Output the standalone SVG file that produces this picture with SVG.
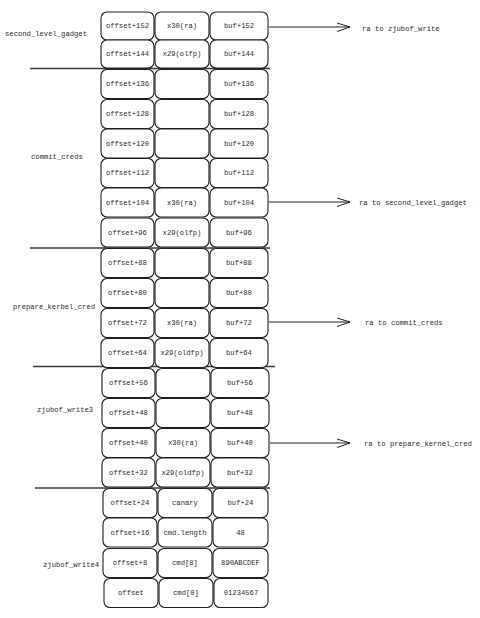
<svg xmlns="http://www.w3.org/2000/svg" width="480" height="618" viewBox="0 0 480 618">
<style>
.c{fill:#fff;stroke:#1e1e1e;stroke-width:1.1}
.t{font-family:"Liberation Mono","DejaVu Sans Mono",monospace;font-size:7.2px;fill:#2a2a2a;text-anchor:middle;dominant-baseline:central}
.l{font-family:"Liberation Mono","DejaVu Sans Mono",monospace;font-size:7.2px;fill:#2a2a2a}
.s{stroke:#3a3a3a;stroke-width:1.3;fill:none}
.a{stroke:#1e1e1e;stroke-width:1;fill:none}
</style>
<defs>
<marker id="ah" markerUnits="userSpaceOnUse" markerWidth="16" markerHeight="12" refX="14" refY="5" orient="auto">
<path d="M1,1 L14,5 L1,9.5" fill="none" stroke="#1e1e1e" stroke-width="1"/>
</marker>
</defs>
<rect width="480" height="618" fill="#fff"/>
<g id="separators">
<line class="s" x1="30" y1="68.5" x2="270" y2="68.5"/>
<line class="s" x1="30" y1="248" x2="270" y2="248"/>
<line class="s" x1="33" y1="366.5" x2="275" y2="366.5"/>
<line class="s" x1="35" y1="488" x2="270" y2="488"/>
</g>
<g id="r0"><rect class="c" x="101" y="12" width="53" height="28" rx="6"/><text class="t" x="127.5" y="26">offset+152</text><rect class="c" x="155" y="12" width="54" height="28" rx="6"/><text class="t" x="182" y="26">x30(ra)</text><rect class="c" x="210" y="12" width="58" height="28" rx="6"/><text class="t" x="239" y="26">buf+152</text></g>
<g id="r1"><rect class="c" x="101" y="40" width="53" height="28" rx="6"/><text class="t" x="127.5" y="54">offset+144</text><rect class="c" x="155" y="40" width="54" height="28" rx="6"/><text class="t" x="182" y="54">x29(olfp)</text><rect class="c" x="210" y="40" width="58" height="28" rx="6"/><text class="t" x="239" y="54">buf+144</text></g>
<g id="r2"><rect class="c" x="101" y="69.5" width="53" height="29" rx="6"/><text class="t" x="127.5" y="84">offset+136</text><rect class="c" x="155" y="69.5" width="54" height="29" rx="6"/><rect class="c" x="210" y="69.5" width="58" height="29" rx="6"/><text class="t" x="239" y="84">buf+136</text></g>
<g id="r3"><rect class="c" x="101" y="99.5" width="53" height="29" rx="6"/><text class="t" x="127.5" y="114">offset+128</text><rect class="c" x="155" y="99.5" width="54" height="29" rx="6"/><rect class="c" x="210" y="99.5" width="58" height="29" rx="6"/><text class="t" x="239" y="114">buf+128</text></g>
<g id="r4"><rect class="c" x="101" y="129" width="53" height="29" rx="6"/><text class="t" x="127.5" y="143.5">offset+120</text><rect class="c" x="155" y="129" width="54" height="29" rx="6"/><rect class="c" x="210" y="129" width="58" height="29" rx="6"/><text class="t" x="239" y="143.5">buf+120</text></g>
<g id="r5"><rect class="c" x="101" y="158.5" width="53" height="29" rx="6"/><text class="t" x="127.5" y="173">offset+112</text><rect class="c" x="155" y="158.5" width="54" height="29" rx="6"/><rect class="c" x="210" y="158.5" width="58" height="29" rx="6"/><text class="t" x="239" y="173">buf+112</text></g>
<g id="r6"><rect class="c" x="101" y="188" width="53" height="29" rx="6"/><text class="t" x="127.5" y="202.5">offset+104</text><rect class="c" x="155" y="188" width="54" height="29" rx="6"/><text class="t" x="182" y="202.5">x30(ra)</text><rect class="c" x="210" y="188" width="58" height="29" rx="6"/><text class="t" x="239" y="202.5">buf+104</text></g>
<g id="r7"><rect class="c" x="101" y="218" width="53" height="29" rx="6"/><text class="t" x="127.5" y="232.5">offset+96</text><rect class="c" x="155" y="218" width="54" height="29" rx="6"/><text class="t" x="182" y="232.5">x29(olfp)</text><rect class="c" x="210" y="218" width="58" height="29" rx="6"/><text class="t" x="239" y="232.5">buf+96</text></g>
<g id="r8"><rect class="c" x="101" y="248.5" width="53" height="29" rx="6"/><text class="t" x="127.5" y="263">offset+88</text><rect class="c" x="155" y="248.5" width="54" height="29" rx="6"/><rect class="c" x="210" y="248.5" width="58" height="29" rx="6"/><text class="t" x="239" y="263">buf+88</text></g>
<g id="r9"><rect class="c" x="101" y="278.5" width="53" height="29" rx="6"/><text class="t" x="127.5" y="293">offset+80</text><rect class="c" x="155" y="278.5" width="54" height="29" rx="6"/><rect class="c" x="210" y="278.5" width="58" height="29" rx="6"/><text class="t" x="239" y="293">buf+80</text></g>
<g id="r10"><rect class="c" x="101" y="308.5" width="53" height="29" rx="6"/><text class="t" x="127.5" y="323">offset+72</text><rect class="c" x="155" y="308.5" width="54" height="29" rx="6"/><text class="t" x="182" y="323">x30(ra)</text><rect class="c" x="210" y="308.5" width="58" height="29" rx="6"/><text class="t" x="239" y="323">buf+72</text></g>
<g id="r11"><rect class="c" x="101" y="338.5" width="53" height="29" rx="6"/><text class="t" x="127.5" y="353">offset+64</text><rect class="c" x="155" y="338.5" width="54" height="29" rx="6"/><text class="t" x="182" y="353">x29(oldfp)</text><rect class="c" x="210" y="338.5" width="58" height="29" rx="6"/><text class="t" x="239" y="353">buf+64</text></g>
<g id="r12"><rect class="c" x="102" y="368.5" width="53" height="29" rx="6"/><text class="t" x="128.5" y="383">offset+56</text><rect class="c" x="156" y="368.5" width="54" height="29" rx="6"/><rect class="c" x="211" y="368.5" width="58" height="29" rx="6"/><text class="t" x="240" y="383">buf+56</text></g>
<g id="r13"><rect class="c" x="102" y="398.5" width="53" height="29" rx="6"/><text class="t" x="128.5" y="413">offset+48</text><rect class="c" x="156" y="398.5" width="54" height="29" rx="6"/><rect class="c" x="211" y="398.5" width="58" height="29" rx="6"/><text class="t" x="240" y="413">buf+48</text></g>
<g id="r14"><rect class="c" x="102" y="428.5" width="53" height="29" rx="6"/><text class="t" x="128.5" y="443">offset+40</text><rect class="c" x="156" y="428.5" width="54" height="29" rx="6"/><text class="t" x="183" y="443">x30(ra)</text><rect class="c" x="211" y="428.5" width="58" height="29" rx="6"/><text class="t" x="240" y="443">buf+40</text></g>
<g id="r15"><rect class="c" x="102" y="458" width="53" height="29" rx="6"/><text class="t" x="128.5" y="472.5">offset+32</text><rect class="c" x="156" y="458" width="54" height="29" rx="6"/><text class="t" x="183" y="472.5">x29(oldfp)</text><rect class="c" x="211" y="458" width="58" height="29" rx="6"/><text class="t" x="240" y="472.5">buf+32</text></g>
<g id="r16"><rect class="c" x="103" y="488.5" width="54" height="29" rx="6"/><text class="t" x="130" y="503">offset+24</text><rect class="c" x="158" y="488.5" width="54" height="29" rx="6"/><text class="t" x="185" y="503">canary</text><rect class="c" x="213" y="488.5" width="55" height="29" rx="6"/><text class="t" x="240.5" y="503">buf+24</text></g>
<g id="r17"><rect class="c" x="103" y="518" width="54" height="29" rx="6"/><text class="t" x="130" y="532.5">offset+16</text><rect class="c" x="158" y="518" width="54" height="29" rx="6"/><text class="t" x="185" y="532.5">cmd.length</text><rect class="c" x="213" y="518" width="55" height="29" rx="6"/><text class="t" x="240.5" y="532.5">48</text></g>
<g id="r18"><rect class="c" x="103" y="548.5" width="54" height="29" rx="6"/><text class="t" x="130" y="563">offset+8</text><rect class="c" x="158" y="548.5" width="54" height="29" rx="6"/><text class="t" x="185" y="563">cmd[8]</text><rect class="c" x="213" y="548.5" width="55" height="29" rx="6"/><text class="t" x="240.5" y="563">890ABCDEF</text></g>
<g id="r19"><rect class="c" x="104" y="578.5" width="54" height="29" rx="6"/><text class="t" x="131" y="593">offset</text><rect class="c" x="159" y="578.5" width="54" height="29" rx="6"/><text class="t" x="186" y="593">cmd[0]</text><rect class="c" x="214" y="578.5" width="54" height="29" rx="6"/><text class="t" x="241" y="593">01234567</text></g>
<g id="frame-labels">
<text class="l" x="5" y="36">second_level_gadget</text>
<text class="l" x="31" y="159">commit_creds</text>
<text class="l" x="13" y="309">prepare_kerbel_cred</text>
<text class="l" x="37" y="412">zjubof_write3</text>
<text class="l" x="43" y="567">zjubof_write4</text>
</g>
<g id="connectors">
<line class="a" x1="269" y1="27" x2="350" y2="27" marker-end="url(#ah)"/>
<line class="a" x1="269" y1="202" x2="350" y2="202" marker-end="url(#ah)"/>
<line class="a" x1="269" y1="322" x2="350" y2="322" marker-end="url(#ah)"/>
<line class="a" x1="270" y1="443" x2="350" y2="443" marker-end="url(#ah)"/>
</g>
<g id="ra-labels">
<text class="l" x="362" y="31">ra to zjubof_write</text>
<text class="l" x="359" y="205">ra to second_level_gadget</text>
<text class="l" x="365" y="325">ra to commit_creds</text>
<text class="l" x="364" y="446">ra to prepare_kernel_cred</text>
</g>
</svg>
